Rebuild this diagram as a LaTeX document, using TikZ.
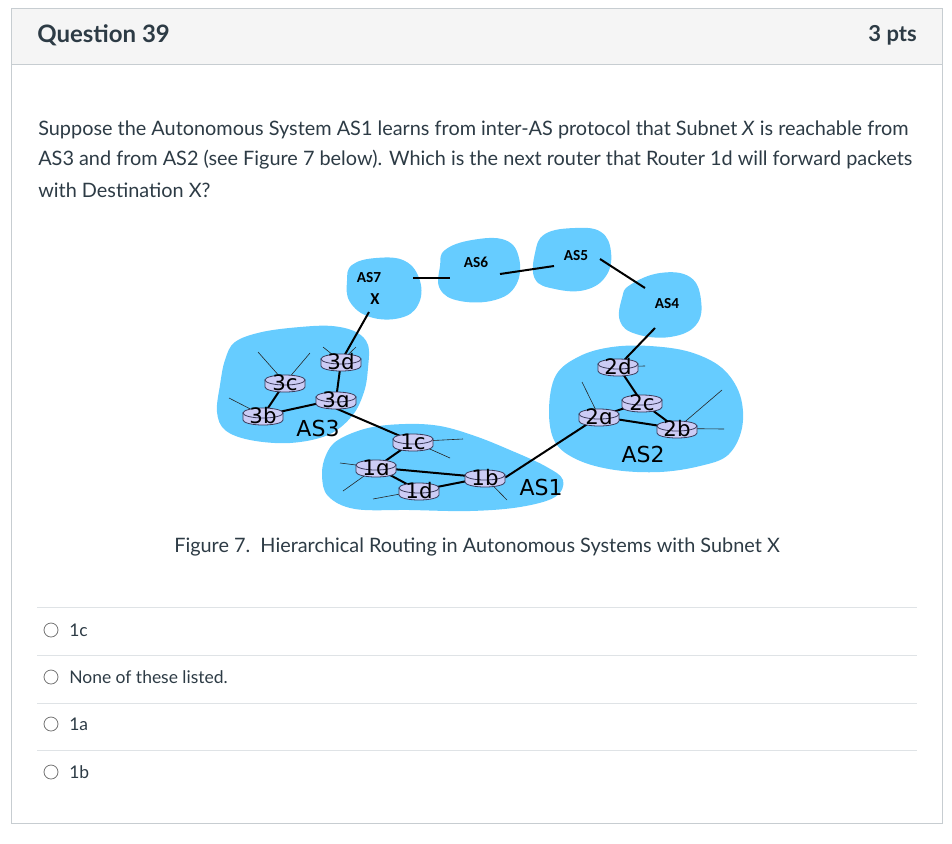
\documentclass[tikz,border=0pt]{standalone}
\usepackage{fontspec}
\setmainfont{Lato}
\newfontfamily\asfont{Carlito}
\newfontfamily\rfont{DejaVu Sans}
\pgfdeclarelayer{blobs}
\pgfdeclarelayer{links}
\pgfsetlayers{blobs,links,main}
\definecolor{asblue}{HTML}{66CCFF}
\definecolor{rfill}{HTML}{CCCCF5}
\definecolor{rline}{HTML}{3A3A5A}
\definecolor{txt}{HTML}{2D3B45}
\definecolor{hdr}{HTML}{F5F5F5}
\definecolor{bord}{HTML}{C7CDD1}
\definecolor{sep}{HTML}{DFE3E6}
\tikzset{
  blob/.style={fill=asblue, draw=none},
  link/.style={line width=1.5pt, draw=black},
  host/.style={line width=0.45pt, draw=black!85},
  rtr/.style={fill=rfill, draw=rline, line width=0.6pt},
  rlabel/.style={font=\rfont\fontsize{16}{16}\selectfont, inner sep=0pt, minimum width=30pt, minimum height=13pt},
  aslabel/.style={font=\asfont\bfseries\fontsize{11.5}{11.5}\selectfont, inner sep=0pt},
  bigas/.style={font=\rfont\fontsize{16.5}{16.5}\selectfont, inner sep=0pt},
  body/.style={font=\fontsize{14.9}{14.9}\selectfont, text=txt, inner sep=0pt, anchor=west},
  opt/.style={font=\fontsize{13.1}{13.1}\selectfont, text=txt, inner sep=0pt, anchor=west},
  radio/.style={circle, draw=black!55, line width=0.6pt, minimum size=10.5pt, inner sep=0pt},
  sepline/.style={draw=sep, line width=0.75pt}
}
\newcommand\router[4]{%
  \begin{scope}[shift={(#2,-#3)}]
    \filldraw[rtr] (-20,3) -- (-20,-4) arc[start angle=180,end angle=360,x radius=20,y radius=5] -- (20,3) -- cycle;
    \filldraw[rtr] (0,3) ellipse[x radius=20,y radius=5];
  \end{scope}
  \node[rlabel] (#1) at (#2,-#3+0.5) {#4};}
\begin{document}
\begin{tikzpicture}[x=0.75pt,y=0.75pt]
\useasboundingbox (0,0) rectangle (952,-843);
% card
\fill[hdr] (11,-8) rectangle (942,-64);
\draw[bord, line width=0.75pt] (11,-8) rectangle (942,-823);
\draw[bord, line width=0.75pt] (11,-64) -- (942,-64);
\node[font=\bfseries\fontsize{18}{18}\selectfont, text=txt, anchor=west, inner sep=0pt] (title) at (37,-35) {Question 39};
\node[font=\bfseries\fontsize{16.5}{16.5}\selectfont, text=txt, anchor=east, inner sep=0pt] (pts) at (917,-35) {3 pts};
% question text
\node[body] (q1) at (38,-130) {Suppose the Autonomous System AS1 learns from inter-AS protocol that Subnet \textit{X} is reachable from};
\node[body] (q2) at (38,-160) {AS3 and from AS2 (see Figure 7 below). Which is the next router that Router 1d will forward packets};
\node[body] (q3) at (38,-190) {with Destination X?};
% caption
\node[body, anchor=center] (cap) at (477,-547) {Figure 7.\ \ Hierarchical Routing in Autonomous Systems with Subnet X};
% options
\draw[sepline] (37,-607) -- (917,-607);
\draw[sepline] (37,-655) -- (917,-655);
\draw[sepline] (37,-703) -- (917,-703);
\draw[sepline] (37,-750) -- (917,-750);
\node[radio] (o1) at (51,-630) {};
\node[opt] (t1) at (69,-630) {1c};
\node[radio] (o2) at (51,-677) {};
\node[opt] (t2) at (69,-677) {None of these listed.};
\node[radio] (o3) at (51,-724) {};
\node[opt] (t3) at (69,-724) {1a};
\node[radio] (o4) at (51,-772) {};
\node[opt] (t4) at (69,-772) {1b};

% ---------------- diagram -----------------
\begin{pgfonlayer}{blobs}
% AS7
\fill[blob] plot[smooth cycle, tension=0.7] coordinates {(352,-265) (376,-258) (405,-261) (420,-281) (418,-305) (400,-318) (370,-317) (350,-302) (347,-281)};
% AS6
\fill[blob] plot[smooth cycle, tension=0.7] coordinates {(445,-250) (472,-240) (505,-240) (519,-258) (516,-285) (495,-300) (460,-301) (440,-289) (440,-266)};
% AS5
\fill[blob] plot[smooth cycle, tension=0.7] coordinates {(545,-234) (575,-228) (601,-232) (611,-252) (606,-276) (585,-290) (555,-289) (535,-279) (535,-253)};
% AS4
\fill[blob] plot[smooth cycle, tension=0.7] coordinates {(630,-285) (660,-273) (690,-277) (701,-300) (696,-325) (670,-337) (636,-334) (620,-321) (622,-298)};
% AS3
\fill[blob] plot[smooth cycle, tension=0.6] coordinates {(235,-342) (262,-332) (300,-327) (332,-326) (356,-332) (368,-345) (368,-368) (364,-392) (352,-416) (328,-435) (290,-443) (250,-440) (225,-430) (217,-412) (220,-385) (225,-360)};
% AS1
\fill[blob] plot[smooth cycle, tension=0.6] coordinates {(338,-440) (368,-428) (405,-424) (440,-426) (475,-436) (510,-450) (545,-466) (563,-480) (555,-497) (520,-507) (470,-511) (410,-510) (355,-509) (328,-496) (322,-475) (326,-455)};
% AS2
\fill[blob] plot[smooth cycle, tension=0.6] coordinates {(556,-375) (580,-356) (612,-347) (650,-346) (690,-352) (722,-368) (740,-395) (742,-428) (728,-455) (700,-466) (660,-472) (615,-470) (578,-460) (555,-442) (549,-410)};
\end{pgfonlayer}

% AS labels
\node[aslabel] (as7) at (369,-278) {AS7};
\node[aslabel, font=\asfont\bfseries\fontsize{12.5}{12.5}\selectfont] (asx) at (375,-299) {X};
\node[aslabel] (as6) at (476,-262) {AS6};
\node[aslabel] (as5) at (576,-256) {AS5};
\node[aslabel] (as4) at (667,-304) {AS4};
\node[bigas] (as3) at (318,-428) {AS3};
\node[bigas] (as1) at (541,-487) {AS1};
\node[bigas] (as2) at (643,-454) {AS2};

% routers
\router{r3d}{341}{362}{3d}
\router{r3c}{285}{383}{3c}
\router{r3a}{336}{400}{3ɑ}
\router{r3b}{263}{416}{3b}
\router{r1c}{413}{442}{1c}
\router{r1a}{376}{468}{1ɑ}
\router{r1d}{419}{491}{1d}
\router{r1b}{485}{478}{1b}
\router{r2d}{618}{367}{2d}
\router{r2c}{642}{403}{2c}
\router{r2a}{599}{417}{2ɑ}
\router{r2b}{677}{429}{2b}

% link end coordinates
\coordinate (e7) at (413,-278);
\coordinate (w6) at (450,-278);
\coordinate (e6) at (500,-274);
\coordinate (w5) at (554,-266);
\coordinate (e5) at (600,-259);
\coordinate (w4) at (645,-288);
\coordinate (s4) at (655,-328);
\coordinate (sx) at (369,-312);

\begin{pgfonlayer}{links}
% inter-AS
\draw[link] (e7) -- (w6);
\draw[link] (e6) -- (w5);
\draw[link] (e5) -- (w4);
\draw[link] (s4) -- (r2d.center);
\draw[link] (sx) -- (r3d.center);
\draw[link] (r3a.south) -- (r1c.center);
\draw[link] (r1b.east) -- (r2a.center);
% AS3
\draw[link] (r3c.center) -- (r3b.center);
\draw[link] (r3b.center) -- (r3a.center);
\draw[link] (r3a.center) -- (r3d.center);
% AS1
\draw[link] (r1c.center) -- (r1a.center);
\draw[link] (r1a.center) -- (r1b.center);
\draw[link] (r1a.center) -- (r1d.center);
\draw[link] (r1d.center) -- (r1b.center);
% AS2
\draw[link] (r2d.center) -- (r2c.center);
\draw[link] (r2c.center) -- (r2a.center);
\draw[link] (r2a.center) -- (r2b.center);
\draw[link] (r2c.center) -- (r2b.center);
% hosts
\draw[host] (r3c.center) -- (258,-352) coordinate (h3c1);
\draw[host] (r3c.center) -- (310,-353) coordinate (h3c2);
\draw[host] (r3b.center) -- (229,-398) coordinate (h3b1);
\draw[host] (r3d.center) -- (323,-347) coordinate (h3d1);
\draw[host] (r3d.center) -- (356,-347) coordinate (h3d2);
\draw[host] (r1c.center) -- (463,-439) coordinate (h1c1);
\draw[host] (r1c.center) -- (450,-458) coordinate (h1c2);
\draw[host] (r1a.center) -- (340,-463) coordinate (h1a1);
\draw[host] (r1a.center) -- (343,-491) coordinate (h1a2);
\draw[host] (r1d.center) -- (373,-499) coordinate (h1d1);
\draw[host] (r1b.center) -- (507,-500) coordinate (h1b1);
\draw[host] (r2d.center) -- (600,-363) coordinate (h2d1);
\draw[host] (r2d.center) -- (645,-366) coordinate (h2d2);
\draw[host] (r2a.center) -- (582,-382) coordinate (h2a1);
\draw[host] (r2b.center) -- (722,-390) coordinate (h2b1);
\draw[host] (r2b.center) -- (724,-429) coordinate (h2b2);
\end{pgfonlayer}
\end{tikzpicture}
\end{document}
